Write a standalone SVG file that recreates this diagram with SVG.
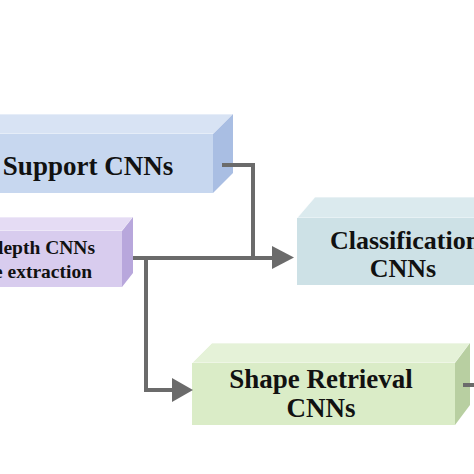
<svg xmlns="http://www.w3.org/2000/svg" width="474" height="474" viewBox="0 0 474 474">
<style>
text{font-family:"Liberation Serif","Times New Roman",serif;font-weight:bold;fill:#111}
.c{stroke:#6b6b6b;stroke-width:4;fill:none}
.ah{fill:#6b6b6b}
.edge{stroke:#ffffff;stroke-width:1;stroke-opacity:0.7}
</style>
<rect width="474" height="474" fill="#ffffff"/>
<g id="support">
<polygon points="-10,114 233,114 213,134 -10,134" fill="#d8e3f4" class="edge"/>
<rect x="-10" y="134" width="223" height="59" fill="#c7d7ef"/>
<polygon points="213,134 233,114 233,173 213,193" fill="#a9bee3"/>
<text x="88" y="175" font-size="27" text-anchor="middle">Support CNNs</text>
</g>
<g id="indepth">
<polygon points="-10,217 133,217 122,231 -10,231" fill="#e5dcf4" class="edge"/>
<rect x="-10" y="231" width="132" height="56" fill="#d8ccee"/>
<polygon points="122,231 133,217 133,273 122,287" fill="#b8a7dc"/>
<text x="95" y="254" font-size="19.5" text-anchor="end">depth CNNs</text>
<text x="92" y="278" font-size="19.5" text-anchor="end">e extraction</text>
</g>
<g id="classification">
<polygon points="297,218 315,197 490,197 490,218" fill="#dbeaee" class="edge"/>
<rect x="297" y="218" width="190" height="67" fill="#cde1e6"/>
<text x="405" y="249" font-size="26" text-anchor="middle">Classification</text>
<text x="403" y="277" font-size="26" text-anchor="middle">CNNs</text>
</g>
<g id="shape">
<polygon points="192,363 212,343 470,343 455,363" fill="#e5f2d8" class="edge"/>
<rect x="192" y="363" width="263" height="62" fill="#daecc7"/>
<polygon points="455,363 470,343 470,405 455,425" fill="#b8cfa1"/>
<text x="321" y="388" font-size="27" text-anchor="middle">Shape Retrieval</text>
<text x="321" y="417" font-size="27" text-anchor="middle">CNNs</text>
</g>
<g id="connectors">
<path class="c" d="M222,165 H253 V258"/>
<path class="c" d="M133,258 H276"/>
<polygon class="ah" points="272,246 294,257.5 272,269"/>
<path class="c" d="M146,258 V390 H175"/>
<polygon class="ah" points="172,378 193,390 172,402"/>
<path class="c" d="M463,385 H476"/>
</g>
</svg>
